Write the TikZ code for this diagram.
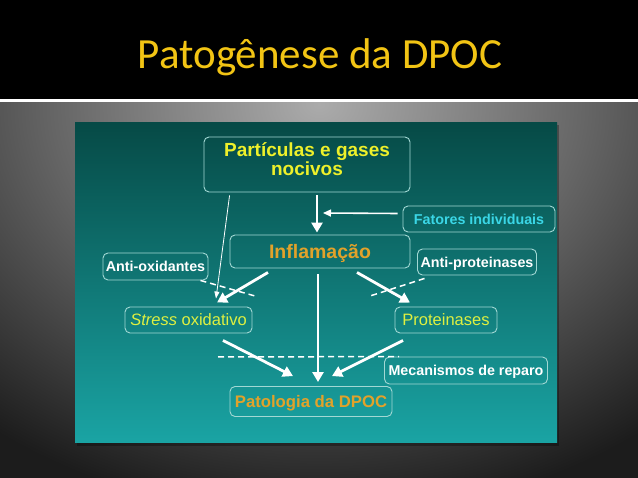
\documentclass[tikz,border=0pt]{standalone}
\usepackage{fontspec}
\setmainfont{Liberation Sans}
\newfontfamily\titlefont{Carlito}
\usetikzlibrary{arrows.meta,calc}
\definecolor{titleyellow}{HTML}{F2C414}
\definecolor{partyellow}{HTML}{EEF02A}
\definecolor{stressyellow}{HTML}{DFF040}
\definecolor{inflorange}{HTML}{E2A22A}
\definecolor{fatcyan}{HTML}{3AD6E6}
\definecolor{boxline}{HTML}{A2D8D4}
\definecolor{tealtop}{HTML}{064A46}
\definecolor{tealbot}{HTML}{1AA4A4}
\definecolor{bgmid}{HTML}{ABABAB}
\definecolor{bgq}{HTML}{666666}
\definecolor{bgdark}{HTML}{1C1C1C}
\pgfdeclareradialshading{slidebg}{\pgfpoint{0bp}{0bp}}{color(0bp)=(bgmid); color(11bp)=(bgq); color(22bp)=(bgdark); color(50bp)=(bgdark)}
\tikzset{
  box/.style={draw=boxline, line width=0.9pt, rounded corners=5pt, inner sep=0pt, text depth=0pt},
  smallbold/.style={font=\fontsize{14.3}{16}\selectfont\bfseries, text height=10.2pt},
  midreg/.style={font=\fontsize{16.5}{18}\selectfont, text height=11.8pt},
  thickarrow/.style={draw=white, line width=2.8pt, -{Triangle[width=11pt,length=10pt]}},
  thinarrow/.style={draw=white, line width=0.8pt, -{Triangle[width=5pt,length=7pt]}},
  medarrow/.style={draw=white, line width=1.6pt, -{Triangle[width=7pt,length=8pt]}},
  dashline/.style={draw=white, line width=1.5pt, dash pattern=on 6pt off 4pt},
}
\begin{document}
\begin{tikzpicture}[x=1pt,y=-1pt]
\useasboundingbox (0,0) rectangle (638,478);
\fill[black] (0,0) rectangle (638,102);
\fill[bgdark] (0,102) rectangle (638,478);
\begin{scope}
  \clip (0,102) rectangle (638,478);
  \shade[shading=slidebg] (319,104) ellipse (600 and 470);
\end{scope}
\fill[white] (0,99.5) rectangle (638,102.3);
\node[font=\titlefont\fontsize{43}{43}\selectfont, text=titleyellow, anchor=base, inner sep=0pt] (title) at (320,68.5) {Patogênese da DPOC};
% panel
\fill[black, opacity=0.3] (77,125) rectangle (559,446);
\shade[top color=tealtop, bottom color=tealbot] (75,123) rectangle (557,443);
% nodes
\node[box, minimum width=206pt, minimum height=55pt] (part) at (307,164.5) {};
\node[font=\fontsize{19}{17}\selectfont\bfseries, text=partyellow, align=center, inner sep=0pt] (parttext) at ($(part.center)+(0,-5)$) {Partículas e gases\\nocivos};
\node[box, smallbold, text=fatcyan, minimum width=152pt, minimum height=26pt] (fat) at (479,219) {Fatores individuais};
\node[box, font=\fontsize{19.5}{21}\selectfont\bfseries, text height=14pt, text=inflorange, minimum width=180pt, minimum height=33pt] (infl) at (320,251.5) {Inflamação};
\node[box, smallbold, text=white, minimum width=105pt, minimum height=27pt] (antiox) at (155.5,266.5) {Anti-oxidantes};
\node[box, smallbold, text=white, minimum width=119pt, minimum height=26pt] (antiprot) at (477,262) {Anti-proteinases};
\node[box, midreg, text=stressyellow, minimum width=127pt, minimum height=26pt] (stress) at (188.5,320) {\textit{Stress} oxidativo};
\node[box, midreg, text=stressyellow, minimum width=102pt, minimum height=26pt] (prot) at (446,320) {Proteinases};
\node[box, smallbold, text=white, minimum width=163pt, minimum height=27pt] (mec) at (466,370.5) {Mecanismos de reparo};
\node[box, font=\fontsize{16.7}{18}\selectfont\bfseries, text height=12pt, text=inflorange, minimum width=162pt, minimum height=30pt] (pat) at (311,401.5) {Patologia da DPOC};
% coordinates for free ends
\coordinate (fatjoin) at (323,213);
\coordinate (oxend) at (255,296);
\coordinate (protend) at (370,296);
\coordinate (repstart) at (218,357);
% connectors
\draw[thickarrow] ($(part.south)+(10,3)$) -- ($(infl.north)+(-3,-2)$);
\draw[medarrow] ($(fat.west)+(-5,-5.5)$) -- (fatjoin);
\draw[thinarrow] ($(part.south west)+(26,3)$) -- ($(stress.north)+(27.5,-8)$);
\draw[thickarrow] ($(infl.south)+(-52,4)$) -- ($(stress.north)+(28.5,-4)$);
\draw[thickarrow] ($(infl.south)+(37,4)$) -- ($(prot.north)+(-36,-4)$);
\draw[thickarrow] ($(infl.south)+(-2,6)$) -- ($(pat.north)+(7,-4)$);
\draw[thickarrow] ($(stress.south)+(34.5,7)$) -- ($(pat.north)+(-18,-10)$);
\draw[thickarrow] ($(prot.south)+(-43,7)$) -- ($(pat.north)+(21,-10)$);
\draw[dashline] ($(antiox.south east)+(-8,0)$) -- (oxend);
\draw[dashline] ($(antiprot.south west)+(7.5,3)$) -- (protend);
\draw[dashline] (repstart) -- ($(mec.north west)+(15,0)$);
\end{tikzpicture}
\end{document}
